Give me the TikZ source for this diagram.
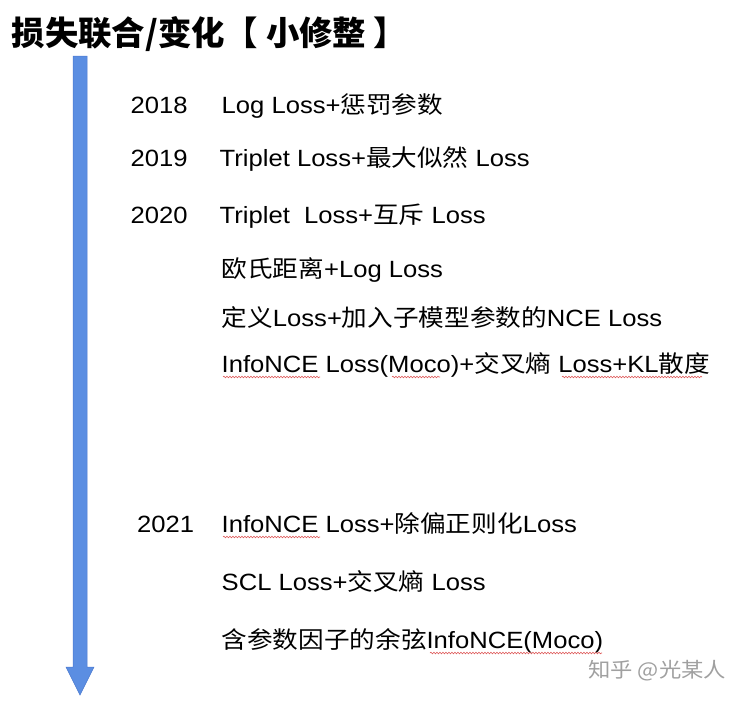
\documentclass[tikz,border=0pt]{standalone}
\usepackage{fontspec}
\setmainfont{Liberation Sans}[FakeStretch=1.09]
\newfontfamily\cjk{Noto Sans CJK SC}[FakeStretch=1.09]
\newfontfamily\cjkt{Noto Sans CJK SC}
\usetikzlibrary{decorations.pathmorphing}
\definecolor{arrowblue}{RGB}{91,142,226}
\definecolor{arrowedge}{RGB}{76,122,208}
\definecolor{spellred}{RGB}{222,90,90}
\definecolor{wmgrey}{RGB}{160,160,160}
\begin{document}
\begin{tikzpicture}[x=1pt,y=-1pt,
  txt/.style={inner sep=0pt,anchor=base west,font=\fontsize{23.5}{28}\selectfont},
  ttl/.style={inner sep=0pt,anchor=base west,font=\cjkt\bfseries\fontsize{33.4}{40}\selectfont},
  wm/.style={inner sep=0pt,anchor=base west,text=wmgrey,font=\cjk\fontsize{20.5}{24}\selectfont},
  spell/.style={draw=spellred,line width=0.6pt,decorate,decoration={snake,segment length=3pt,amplitude=0.8pt}}]
\useasboundingbox (0,0) rectangle (744,702);
% title
\node[ttl] (title) at (11.5,45) {损失联合/变化【 小修整 】};
% timeline arrow
\filldraw[fill=arrowblue,draw=arrowedge,line width=0.5pt]
  (73,56) -- (87,56) -- (87,667) -- (94,667) -- (80,695) -- (66,667) -- (73,667) -- cycle;
% years
\node[txt] (y18) at (130.5,113) {2018};
\node[txt] (y19) at (130.5,166.5) {2019};
\node[txt] (y20) at (130.5,223) {2020};
\node[txt] (y21) at (137,532) {2021};
% entries
\node[txt] (e1) at (221.5,113) {Log Loss+{\cjk 惩罚参数}};
\node[txt] (e2) at (219.5,166.5) {Triplet Loss+{\cjk 最大似然} Loss};
\node[txt] (e3) at (219.5,223) {Triplet\ \ Loss+{\cjk 互斥} Loss};
\node[txt] (e4) at (221.5,277) {{\cjk 欧氏距离}+Log Loss};
\node[txt] (e5) at (221.5,326.5) {{\cjk 定义}Loss+{\cjk 加入子模型参数的}NCE Loss};
\node[txt] (e6) at (221.5,372) {InfoNCE Loss(Moco)+{\cjk 交叉熵} Loss+KL{\cjk 散度}};
\node[txt] (e7) at (221.5,532) {InfoNCE Loss+{\cjk 除偏正则化}Loss};
\node[txt] (e8) at (221.5,590.5) {SCL Loss+{\cjk 交叉熵} Loss};
\node[txt] (e9) at (221.5,648) {{\cjk 含参数因子的余弦}InfoNCE(Moco)};
% spell-check underlines
\draw[spell] (223,377) -- (320,377);
\draw[spell] (392,377) -- (440,377);
\draw[spell] (562,377) -- (702,377);
\draw[spell] (223,537) -- (320,537);
\draw[spell] (430,653) -- (602,653);
% watermark
\node[wm] (mark) at (588,677) {知乎 @光某人};
\end{tikzpicture}
\end{document}
